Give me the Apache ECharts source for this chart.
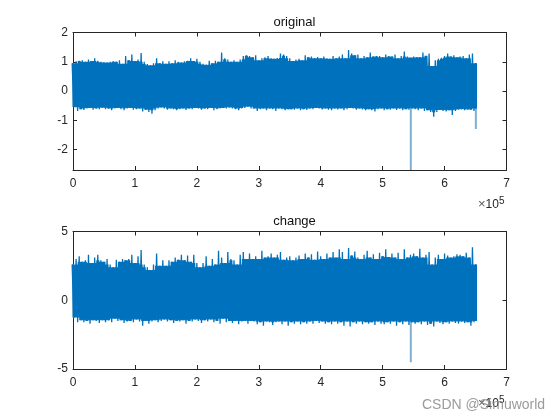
<!DOCTYPE html>
<html><head><meta charset="utf-8">
<style>html,body{margin:0;padding:0;background:#fff}#c{width:560px;height:420px}</style>
<script src="https://cdn.jsdelivr.net/npm/echarts@6/dist/echarts.min.js"></script>
</head><body><div id="c"></div>
<script>
const sampleStep = 5000;
const xTicks = [0,100000,200000,300000,400000,500000,600000,700000];
const xTickLabels = ['0','1','2','3','4','5','6','7'];
const yTicksTop = [-2,-1,0,1,2];
const yTicksBottom = [-5,0,5];
const titles = ['original','change'];

const originalHigh = [
 0.95,1.02,1.03,1.05,1.0,1.08,1.02,1.12,1.03,1.0,
 0.98,0.97,1.0,1.02,1.0,1.05,0.93,1.2,1.05,1.25,
 1.02,1.08,1.3,1.0,0.92,0.88,0.95,1.12,0.95,1.02,
 0.93,1.02,0.95,1.05,1.0,0.97,1.02,1.03,1.12,1.02,
 1.1,1.0,0.93,0.9,1.03,0.95,1.03,1.0,1.32,1.12,
 1.08,1.0,1.05,1.0,1.08,1.2,1.22,1.2,1.15,1.22,
 1.05,1.12,1.15,1.2,1.12,1.1,1.13,1.28,1.25,1.2,
 1.12,1.02,1.08,1.1,1.05,1.22,1.15,1.18,1.12,1.16,
 1.12,1.18,1.12,1.1,1.2,1.12,1.18,1.25,1.12,1.4,
 1.28,1.22,1.25,1.12,1.2,1.15,1.32,1.18,1.2,1.2,
 1.15,1.25,1.2,1.18,1.25,1.12,1.2,1.35,1.18,1.14,
 1.18,1.15,1.15,1.32,1.2,1.28,0.85,1.05,1.1,1.14,
 1.2,1.28,1.18,1.22,1.15,1.18,1.2,1.12,1.25,1.28,0.95];
const originalLow = [
 -0.55,-0.68,-0.62,-0.65,-0.6,-0.58,-0.64,-0.6,-0.62,-0.57,
 -0.62,-0.6,-0.66,-0.6,-0.58,-0.62,-0.66,-0.6,-0.58,-0.64,
 -0.62,-0.6,-0.7,-0.64,-0.72,-0.78,-0.66,-0.6,-0.56,-0.6,
 -0.64,-0.6,-0.62,-0.66,-0.62,-0.6,-0.65,-0.6,-0.62,-0.58,
 -0.6,-0.64,-0.6,-0.62,-0.58,-0.66,-0.62,-0.6,-0.58,-0.6,
 -0.56,-0.6,-0.62,-0.66,-0.6,-0.58,-0.54,-0.6,-0.6,-0.68,
 -0.62,-0.6,-0.66,-0.6,-0.62,-0.68,-0.6,-0.62,-0.66,-0.62,
 -0.62,-0.64,-0.6,-0.66,-0.62,-0.65,-0.6,-0.62,-0.58,-0.6,
 -0.63,-0.6,-0.64,-0.66,-0.6,-0.63,-0.6,-0.66,-0.62,-0.58,
 -0.6,-0.64,-0.6,-0.63,-0.66,-0.62,-0.66,-0.7,-0.62,-0.6,
 -0.66,-0.62,-0.64,-0.6,-0.65,-0.6,-0.66,-0.62,-0.64,-0.6,
 -0.62,-0.66,-0.6,-0.68,-0.66,-0.72,-0.88,-0.72,-0.65,-0.68,
 -0.7,-0.66,-0.82,-0.68,-0.64,-0.62,-0.66,-0.63,-0.65,-0.68,-0.6];
const changeHigh = [
 2.6,3.0,3.2,2.8,2.9,3.3,2.7,3.1,3.3,2.9,
 2.8,3.0,2.6,2.4,2.95,2.8,3.0,2.9,3.0,3.3,
 2.7,3.2,3.65,2.6,2.4,2.2,2.6,3.4,2.5,2.9,
 2.5,2.9,2.8,3.1,2.95,3.3,2.9,3.25,2.8,3.3,
 2.7,2.4,2.7,3.2,2.5,3.0,2.6,3.6,3.1,2.7,
 3.5,3.0,2.9,2.6,3.3,3.5,3.0,3.4,3.0,3.2,
 3.0,3.6,3.1,3.2,3.4,3.1,3.3,3.5,2.95,3.1,
 3.2,2.9,3.1,3.25,3.0,3.4,3.1,3.35,2.95,3.55,
 3.2,3.0,3.4,3.1,3.5,3.1,3.7,3.5,3.0,3.8,
 3.25,3.55,3.1,3.0,3.3,3.6,3.1,3.35,3.0,3.45,
 3.2,3.7,3.15,3.4,3.1,3.45,3.0,3.7,3.1,3.3,
 3.4,3.2,3.75,3.1,3.3,3.5,2.6,3.1,3.3,3.0,
 3.4,3.25,3.1,3.2,3.35,3.3,3.2,3.45,3.1,3.85,2.6];
const changeLow = [
 -1.25,-1.6,-1.45,-1.6,-1.5,-1.7,-1.45,-1.5,-1.65,-1.45,
 -1.6,-1.45,-1.6,-1.35,-1.5,-1.45,-1.65,-1.55,-1.5,-1.6,
 -1.4,-1.55,-1.85,-1.5,-1.7,-1.55,-1.45,-1.6,-1.5,-1.4,
 -1.55,-1.45,-1.65,-1.5,-1.55,-1.45,-1.7,-1.5,-1.55,-1.4,
 -1.5,-1.65,-1.45,-1.55,-1.4,-1.6,-1.5,-1.7,-1.35,-1.6,
 -1.5,-1.65,-1.5,-1.75,-1.55,-1.5,-1.7,-1.5,-1.55,-1.75,
 -1.6,-1.85,-1.55,-1.6,-1.8,-1.6,-1.55,-1.75,-1.55,-1.85,
 -1.6,-1.7,-1.55,-1.75,-1.6,-1.7,-1.55,-1.7,-1.5,-1.65,
 -1.55,-1.7,-1.6,-1.75,-1.55,-1.7,-1.6,-1.85,-1.55,-1.9,
 -1.6,-1.7,-1.55,-1.75,-1.6,-1.7,-1.6,-1.8,-1.55,-1.7,
 -1.75,-1.6,-1.7,-1.55,-1.85,-1.6,-1.75,-1.55,-1.8,-1.6,
 -1.7,-1.6,-1.75,-1.55,-1.8,-1.7,-1.9,-1.55,-1.65,-1.75,
 -1.6,-1.7,-1.55,-1.65,-1.7,-1.55,-1.65,-1.6,-1.85,-1.6,-1.5];
// Thin light strokes: start edge, dropouts and tail (x, y pairs, null breaks the line)
const originalEdges = [[0,0.95],[0,-0.55],[null,null],[545500,-0.6],[545500,-2.7],[null,null],[650500,0.95],[650500,-1.3]];
const changeEdges = [[0,2.6],[0,-1.25],[null,null],[545500,-1.5],[545500,-4.5],[null,null],[650500,2.6],[650500,-1.5]];

const LINE = '#0072BD', EDGE = '#7FB0D2', INK = '#262626';
const FONT = '"Liberation Sans", Arial, sans-serif';

function zigzag(high, low){
  const out = [];
  high.forEach((h,i)=>{
    const x = i*sampleStep;
    out.push([x,h]);
    if(i < high.length-1) out.push([x+sampleStep/2, low[i]]);
    else out.push([x, low[i]]);
  });
  return out;
}
// solid body: at each sample, the lowest nearby crest and highest nearby trough
function coreOf(arr, pick){
  return arr.map((v,i)=>pick(arr[Math.max(i-1,0)],v,arr[Math.min(i+1,arr.length-1)]));
}
function xAxis(idx, pos, labels){
  return {type:'value', gridIndex:idx, position:pos, min:0, max:700000, interval:100000,
    axisLine:{show:true,onZero:false,lineStyle:{color:INK,width:1}},
    axisTick:{show:true,inside:true,length:4,lineStyle:{color:INK,width:1},customValues:xTicks},
    splitLine:{show:false},
    axisLabel:{show:labels,margin:8,fontFamily:FONT,fontSize:12,color:INK,customValues:xTicks,
      formatter:v=>xTickLabels[xTicks.indexOf(v)]}};
}
function yAxis(idx, pos, labels, min, max, ticks){
  return {type:'value', gridIndex:idx, position:pos, min, max, scale:true,
    axisLine:{show:true,onZero:false,lineStyle:{color:INK,width:1}},
    axisTick:{show:true,inside:true,length:4,lineStyle:{color:INK,width:1},customValues:ticks},
    splitLine:{show:false},
    axisLabel:{show:labels,margin:5,fontFamily:FONT,fontSize:12,color:INK,customValues:ticks,
      showMinLabel:true,showMaxLabel:true,formatter:v=>String(v)}};
}
function bodySeries(ax, yx, high, low, w, z){
  return {type:'line', xAxisIndex:ax, yAxisIndex:yx, data:zigzag(high,low), showSymbol:false, symbol:'none',
    animation:false, z:z, lineStyle:{color:LINE,width:w,join:'bevel'}};
}
function edgeSeries(ax, yx, pts){
  return {type:'line', xAxisIndex:ax, yAxisIndex:yx, data:pts, showSymbol:false, symbol:'none',
    animation:false, connectNulls:false, z:2, lineStyle:{color:EDGE,width:2}};
}
function multiplier(top){
  return {type:'text', left:478, top:top, silent:true, style:{
    text:'{a|×}{b|10}{c|5}',
    rich:{a:{fontFamily:FONT,fontSize:13,fill:'#595959',color:'#595959'},
          b:{fontFamily:FONT,fontSize:12,fill:INK,color:INK},
          c:{fontFamily:FONT,fontSize:10,fill:INK,color:INK,verticalAlign:'top',padding:[0,0,7,0]}}}};
}

const chart = echarts.init(document.getElementById('c'), null, {renderer:'canvas'});
chart.setOption({
  animation:false, backgroundColor:'#fff',
  title:[
    {text:titles[0],left:289.5,top:11,textAlign:'center',textStyle:{fontFamily:FONT,fontSize:13,fontWeight:'normal',color:'#111'}},
    {text:titles[1],left:289.5,top:210,textAlign:'center',textStyle:{fontFamily:FONT,fontSize:13,fontWeight:'normal',color:'#111'}}
  ],
  grid:[
    {left:73,top:32.5,width:433.5,height:137.5},
    {left:73,top:231.5,width:433.5,height:137.5}
  ],
  xAxis:[xAxis(0,'bottom',true),xAxis(0,'top',false),xAxis(1,'bottom',true),xAxis(1,'top',false)],
  yAxis:[
    yAxis(0,'left',true,-2.7,2,yTicksTop),yAxis(0,'right',false,-2.7,2,yTicksTop),
    yAxis(1,'left',true,-5,5,yTicksBottom),yAxis(1,'right',false,-5,5,yTicksBottom)
  ],
  series:[
    edgeSeries(0,0,originalEdges),
    bodySeries(0,0,coreOf(originalHigh,Math.min),coreOf(originalLow,Math.max),3,3),
    bodySeries(0,0,originalHigh,originalLow,1.3,4),
    edgeSeries(2,2,changeEdges),
    bodySeries(2,2,coreOf(changeHigh,Math.min),coreOf(changeLow,Math.max),3,3),
    bodySeries(2,2,changeHigh,changeLow,1.3,4)
  ],
  graphic:[
    multiplier(196),
    multiplier(395),
    {type:'text',left:422,top:398,silent:true,z:100,style:{text:'CSDN @Simuworld',fontFamily:FONT,fontSize:14,fill:'rgba(130,130,130,0.8)'}}
  ]
});
</script></body></html>
